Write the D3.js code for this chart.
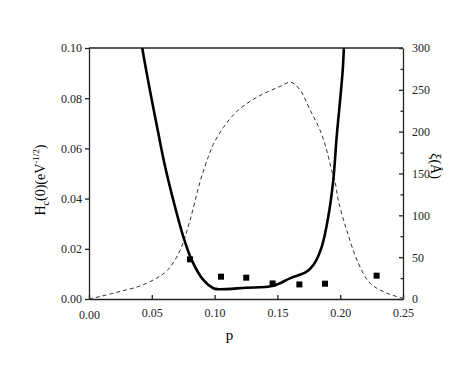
<!DOCTYPE html>
<html>
<head>
<meta charset="utf-8">
<script src="https://cdn.jsdelivr.net/npm/d3@7"></script>
<style>
  body { margin: 0; background: #fff; }
  svg text { font-family: "Liberation Serif", "Times New Roman", serif !important; }
</style>
</head>
<body>
<svg width="474" height="366"></svg>
<script>
// Hc(0) solid curve (left axis)
var pHc = [0.040, 0.0424, 0.0485, 0.0552, 0.0605, 0.0671, 0.0751, 0.0818, 0.091, 0.099, 0.103, 0.125, 0.146, 0.160, 0.1733, 0.1786, 0.1853, 0.1905, 0.1945, 0.1972, 0.202, 0.2035];
var hc  = [0.108, 0.100, 0.0832, 0.066, 0.053, 0.0394, 0.0248, 0.0155, 0.0076, 0.0043, 0.0039, 0.0045, 0.0052, 0.0082, 0.0109, 0.0135, 0.0208, 0.0328, 0.0474, 0.0647, 0.0912, 0.108];

// measured points (squares)
var pSq = [0.0804, 0.1051, 0.1252, 0.1462, 0.1675, 0.1879, 0.229];
var hSq = [0.0158, 0.0089, 0.0085, 0.0062, 0.0058, 0.0061, 0.0093];

// xi dashed curve (right axis)
var pXi = [0, 0.0088, 0.0247, 0.0406, 0.054, 0.060, 0.0645, 0.0725, 0.0804, 0.0884, 0.095, 0.099, 0.107, 0.1176, 0.1335, 0.152, 0.1608, 0.168, 0.176, 0.1839, 0.1892, 0.1932, 0.1959, 0.1985, 0.2052, 0.2144, 0.2237, 0.237, 0.25];
var xi  = [0, 3, 9, 15.5, 25, 31, 38, 58, 94, 140, 170, 185, 205, 224, 241, 254, 259, 250, 226, 202, 178, 154, 140, 118, 82, 43, 19, 7, 1];

var xTicks = [0, 0.05, 0.10, 0.15, 0.20, 0.25];
var yTicks = [0, 0.02, 0.04, 0.06, 0.08, 0.10];
var y2Ticks = [0, 50, 100, 150, 200, 250, 300];
var y2Minor = [25, 75, 125, 175, 225, 275];

var svg = d3.select("svg"),
    margin = {left: 89, top: 48, right: 71, bottom: 67},
    width = +svg.attr("width") - margin.left - margin.right,
    height = +svg.attr("height") - margin.top - margin.bottom,
    g = svg.append("g").attr("transform", "translate(" + margin.left + "," + margin.top + ")");

var x = d3.scaleLinear().domain([0, 0.25]).range([0, width]);
var y = d3.scaleLinear().domain([0, 0.10]).range([height, 0]);
var y2 = d3.scaleLinear().domain([0, 300]).range([height, 0]);

svg.append("defs").append("clipPath").attr("id", "clip")
  .append("rect").attr("width", width).attr("height", height);

// axes
var xAxis = g.append("g").attr("transform", "translate(0," + height + ")")
  .call(d3.axisBottom(x).tickValues(xTicks).tickFormat(d3.format(".2f")).tickSizeInner(-4).tickSizeOuter(0).tickPadding(9));
var yAxis = g.append("g")
  .call(d3.axisLeft(y).tickValues(yTicks).tickFormat(d3.format(".2f")).tickSizeInner(4).tickSizeOuter(0).tickPadding(3));
var y2Axis = g.append("g").attr("transform", "translate(" + width + ",0)")
  .call(d3.axisRight(y2).tickValues(y2Ticks).tickSizeInner(-4).tickSizeOuter(0).tickPadding(9));
g.append("g").attr("transform", "translate(" + width + ",0)")
  .call(d3.axisRight(y2).tickValues(y2Minor).tickSizeInner(-2.5).tickSizeOuter(0).tickFormat(""))
  .select(".domain").remove();
g.append("line").attr("x1", 0).attr("x2", width).attr("y1", 0).attr("y2", 0).attr("stroke", "#222").attr("stroke-width", 1.3);

g.selectAll(".tick text").attr("font-size", 12).attr("fill", "#222");
g.selectAll(".domain, .tick line").attr("stroke", "#222").attr("stroke-width", 1.3);
xAxis.selectAll(".tick text").filter(function(d) { return d === 0; }).attr("dy", "0.9em");

var plot = g.append("g").attr("clip-path", "url(#clip)");

// dashed xi curve
var lineXi = d3.line()
  .x(function(d, i) { return x(pXi[i]); })
  .y(function(d) { return y2(d); })
  .curve(d3.curveCatmullRom.alpha(0.5));
plot.append("path").datum(xi)
  .attr("d", lineXi)
  .attr("fill", "none").attr("stroke", "#333").attr("stroke-width", 1)
  .attr("stroke-dasharray", "4,3");

// solid Hc curve
var lineHc = d3.line()
  .x(function(d, i) { return x(pHc[i]); })
  .y(function(d) { return y(d); })
  .curve(d3.curveCatmullRom);
plot.append("path").datum(hc)
  .attr("d", lineHc)
  .attr("fill", "none").attr("stroke", "#000").attr("stroke-width", 2.6);

// squares
g.selectAll(".sq").data(hSq).enter().append("rect")
  .attr("class", "sq")
  .attr("x", function(d, i) { return x(pSq[i]) - 3; })
  .attr("y", function(d) { return y(d) - 3; })
  .attr("width", 6).attr("height", 6)
  .attr("fill", "#000");

// axis titles
svg.append("text").attr("x", margin.left + x(0.10) + 15).attr("y", 340)
  .attr("text-anchor", "middle").attr("font-size", 15).text("p");

var yl = svg.append("text")
  .attr("transform", "translate(45,180) rotate(-90)")
  .attr("text-anchor", "middle").attr("font-size", 14);
yl.append("tspan").text("H");
yl.append("tspan").attr("font-size", 10).attr("dy", 4).text("c");
yl.append("tspan").attr("dy", -4).text("(0)(eV");
yl.append("tspan").attr("font-size", 9).attr("dy", -6).text("-1/2");
yl.append("tspan").attr("dy", 6).text(")");

svg.append("text")
  .attr("transform", "translate(431,166) rotate(90)")
  .attr("text-anchor", "middle").attr("font-size", 14)
  .text("ξ(Å)");
</script>
</body>
</html>
